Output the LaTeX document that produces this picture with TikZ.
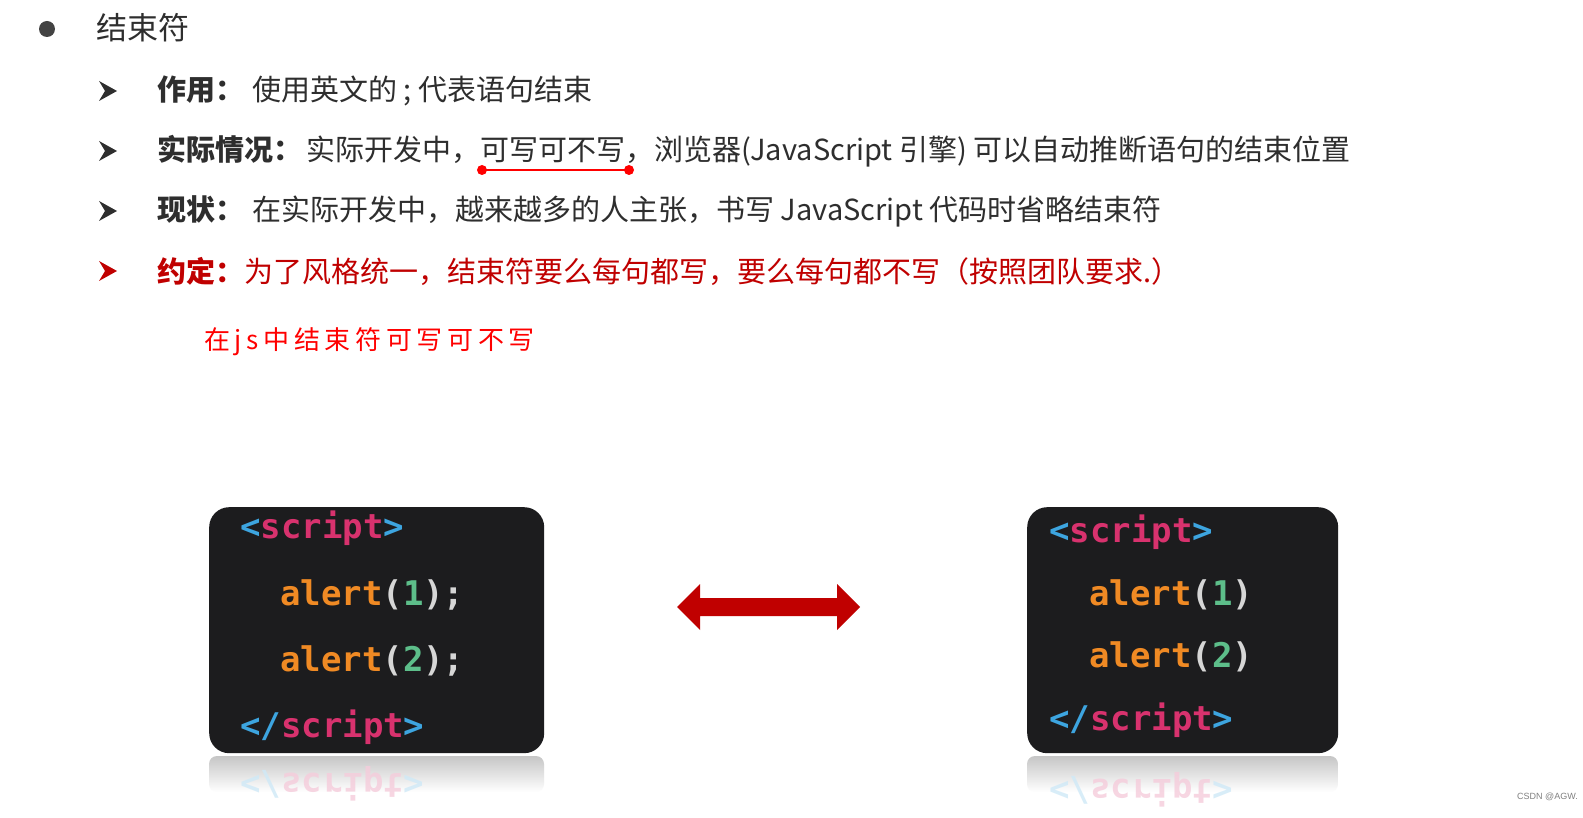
\documentclass[tikz,border=0pt]{standalone}
\usepackage{fontspec}
\setmainfont{Noto Sans CJK SC}
\newfontfamily\codefont{DejaVu Sans Mono}
\definecolor{txt}{HTML}{2E2E2E}
\definecolor{dred}{HTML}{C00000}
\definecolor{boxbg}{HTML}{1C1C1E}
\definecolor{cblue}{HTML}{3DA5E0}
\definecolor{cpink}{HTML}{D8326E}
\definecolor{corange}{HTML}{F08A24}
\definecolor{cgreen}{HTML}{5DBE8A}
\definecolor{cwhite}{HTML}{D6D6D6}
\begin{document}
\begin{tikzpicture}[x=1pt,y=-1pt,
  item/.style={anchor=west,inner sep=0pt,text=txt,font=\fontsize{29}{32}\selectfont},
  code/.style={anchor=west,inner sep=0pt,font=\codefont\bfseries\fontsize{34}{36}\selectfont},
  codebox/.style={fill=boxbg,rounded corners=20pt},
  bul/.pic={\fill (-9,-10) -- (9,0) -- (-9,10) -- (-3,0) -- cycle;}]
\useasboundingbox[fill=white] (0,0) rectangle (1583,818);
% title
\fill[txt!90] (47,29) circle (8);
\node[item,font=\fontsize{31}{33}\selectfont] (title) at (96,28) {结束符};
% items
\foreach \y/\c in {91/txt,151/txt,211/txt,271/dred}{
  \pic[\c] at (108,\y) {bul};
}
\node[item] (i1) at (157,91) {\textbf{作用：}\hspace{8pt}使用英文的 ; 代表语句结束};
\node[item] (i2) at (157,151) {\textbf{实际情况：}\hspace{4pt}实际开发中，可写可不写，浏览器(JavaScript 引擎) 可以自动推断语句的结束位置};
\node[item] (i3) at (157,211) {\textbf{现状：}\hspace{8pt}在实际开发中，越来越多的人主张，书写 JavaScript 代码时省略结束符};
\node[item,text=dred] (i4) at (157,271) {\textbf{约定：}为了风格统一，结束符要么每句都写，要么每句都不写（按照团队要求.）};
% underline
\coordinate (u1) at (482,170); \coordinate (u2) at (629,170);
\draw[red,line width=2.5pt] (u1) -- (u2);
\fill[red] (u1) circle (5) (u2) circle (5);
% red note
\node[anchor=west,inner sep=0pt,text=red,font=\fontsize{26}{28}\selectfont\addfontfeature{LetterSpace=18}] (note) at (204,342) {在js中结束符可写可不写};
% reflections
\foreach \xa/\xb in {209/544,1027/1338}{
  \shade[top color=gray!45,bottom color=white,rounded corners=8pt] (\xa,756) rectangle (\xb,792);
}
\node[code,text=cblue!25,yscale=-1,opacity=0.8] at (240,784) {</\textcolor{cpink!25}{script}>};
\node[code,text=cblue!25,yscale=-1,opacity=0.8] at (1049,790) {</\textcolor{cpink!25}{script}>};
% left box
\node[codebox,minimum width=335pt,minimum height=246pt,anchor=north west] (lb) at (209,507) {};
\node[code,text=cblue] (l1) at (240,528) {<\textcolor{cpink}{script}>};
\node[code,text=corange] (l2) at (280,595) {alert\textcolor{cwhite}{(}\textcolor{cgreen}{1}\textcolor{cwhite}{);}};
\node[code,text=corange] (l3) at (280,661) {alert\textcolor{cwhite}{(}\textcolor{cgreen}{2}\textcolor{cwhite}{);}};
\node[code,text=cblue] (l4) at (240,727) {</\textcolor{cpink}{script}>};
% right box
\node[codebox,minimum width=311pt,minimum height=246pt,anchor=north west] (rb) at (1027,507) {};
\node[code,text=cblue] (r1) at (1049,532) {<\textcolor{cpink}{script}>};
\node[code,text=corange] (r2) at (1089,595) {alert\textcolor{cwhite}{(}\textcolor{cgreen}{1}\textcolor{cwhite}{)}};
\node[code,text=corange] (r3) at (1089,657) {alert\textcolor{cwhite}{(}\textcolor{cgreen}{2}\textcolor{cwhite}{)}};
\node[code,text=cblue] (r4) at (1049,720) {</\textcolor{cpink}{script}>};
% double arrow
\fill[dred] (677,607) -- (700,584) -- (700,598) -- (837,598) -- (837,584) -- (860,607)
  -- (837,630) -- (837,616) -- (700,616) -- (700,630) -- cycle;
% watermark
\node[anchor=east,inner sep=0pt,text=gray,font=\fontspec{Liberation Sans}\fontsize{9}{10}\selectfont] (wm) at (1578,797) {CSDN @AGW.};
\end{tikzpicture}
\end{document}
